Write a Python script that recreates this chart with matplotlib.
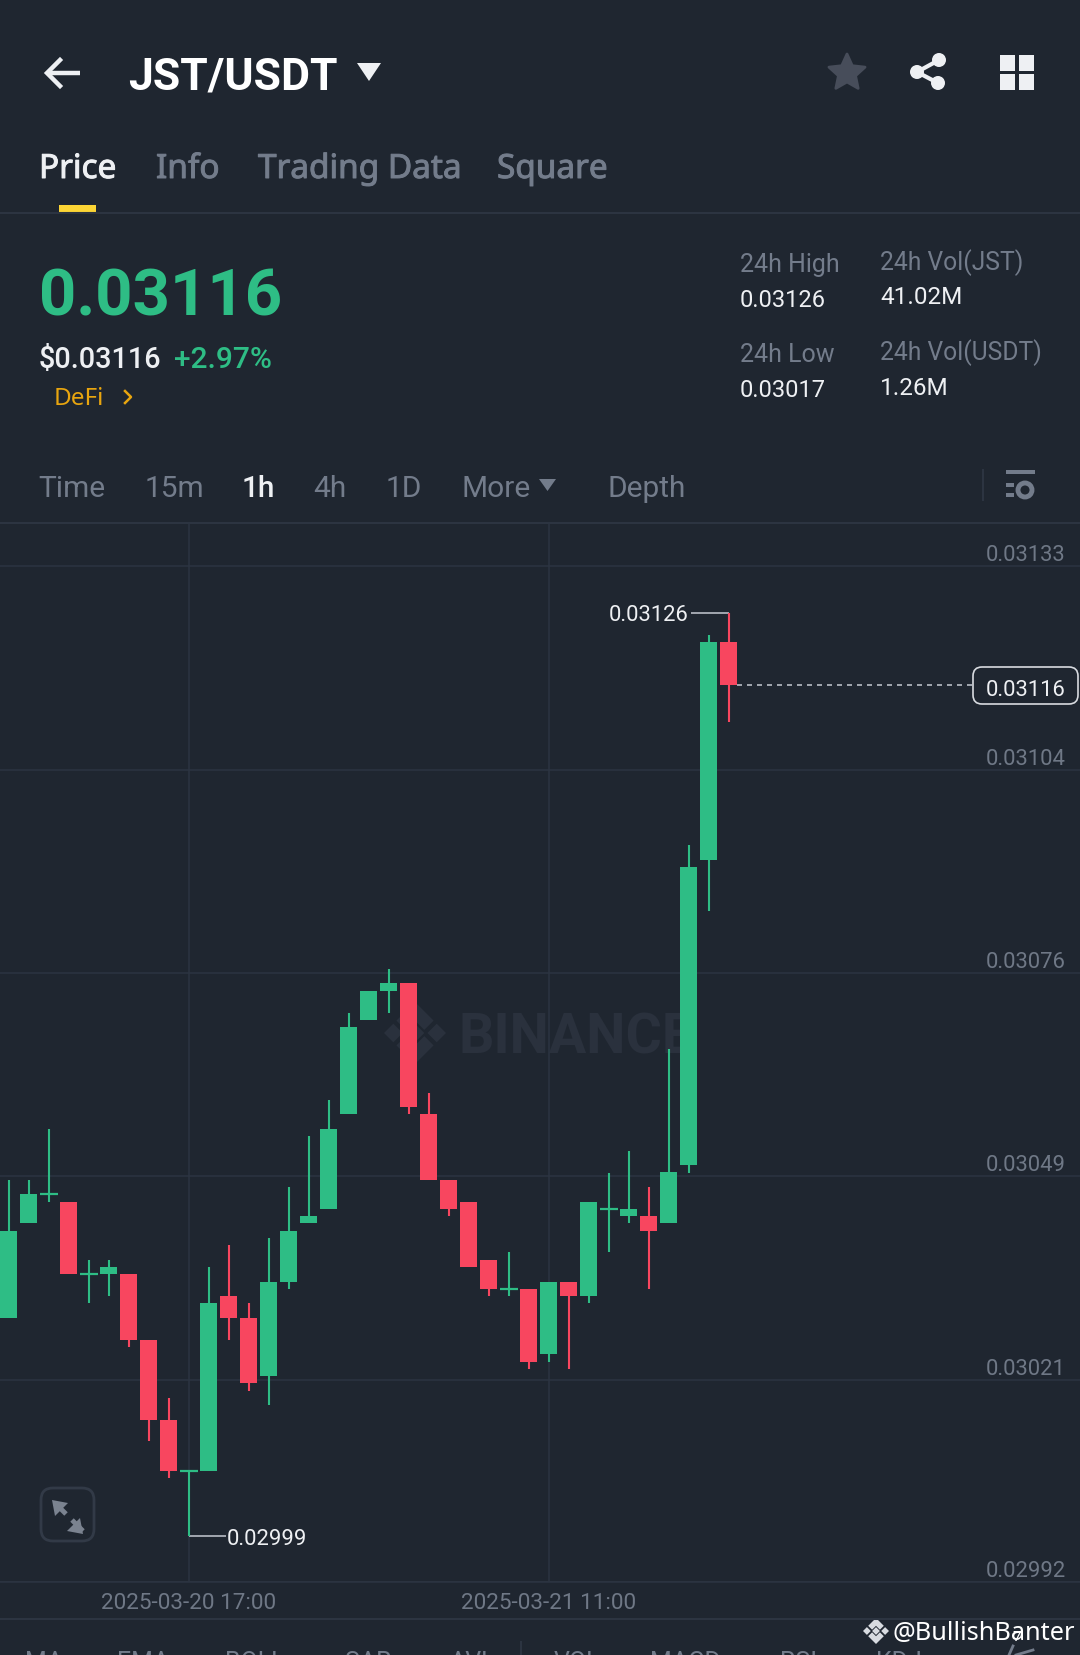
import math
import matplotlib
matplotlib.use("Agg")
import matplotlib.pyplot as plt
import matplotlib.patheffects as pe
from matplotlib.patches import Polygon, Circle, Rectangle, FancyBboxPatch

# ---------- data (prices) ----------
opens = [0.03029,0.03042,0.03046,0.03045,0.03035,0.03035,0.03035,0.03026,0.03015,0.03008,
         0.03008,0.03032,0.03029,0.03021,0.03034,0.03042,0.03044,0.03057,0.03070,0.03074,
         0.03075,0.03057,0.03048,0.03045,0.03037,0.03033,0.03033,0.03024,0.03034,0.03032,
         0.03044,0.03043,0.03043,0.03042,0.03050,0.03092,0.03122]
closes = [0.03041,0.03046,0.03046,0.03035,0.03035,0.03036,0.03026,0.03015,0.03008,0.03008,
          0.03031,0.03029,0.03020,0.03034,0.03041,0.03043,0.03055,0.03069,0.03074,0.03075,
          0.03058,0.03048,0.03044,0.03036,0.03033,0.03033,0.03023,0.03034,0.03032,0.03045,
          0.03044,0.03044,0.03041,0.03049,0.03091,0.03122,0.03116]
highs = [0.03048,0.03048,0.03055,0.03045,0.03037,0.03037,0.03035,0.03026,0.03018,0.03008,
         0.03036,0.03039,0.03031,0.03040,0.03047,0.03054,0.03059,0.03071,0.03074,0.03077,
         0.03075,0.03060,0.03048,0.03045,0.03037,0.03038,0.03033,0.03034,0.03034,0.03045,
         0.03049,0.03052,0.03047,0.03066,0.03094,0.03123,0.03126]
lows = [0.03029,0.03042,0.03045,0.03035,0.03031,0.03032,0.03025,0.03012,0.03007,0.02999,
        0.03008,0.03026,0.03019,0.03017,0.03033,0.03042,0.03044,0.03057,0.03070,0.03071,
        0.03057,0.03048,0.03043,0.03036,0.03032,0.03032,0.03022,0.03023,0.03022,0.03031,
        0.03038,0.03042,0.03033,0.03042,0.03049,0.03085,0.03111]
grid_prices = [0.031324,0.031044,0.030764,0.030485,0.030205,0.029927]
grid_labels = ["0.03133","0.03104","0.03076","0.03049","0.03021","0.02992"]
date_positions = [9,27]
date_labels = ["2025-03-20 17:00","2025-03-21 11:00"]
last_price = 0.03116
high_price = 0.03126
low_price = 0.02999
tabs = ["Price","Info","Trading Data","Square"]
intervals = ["Time","15m","1h","4h","1D","More","Depth"]
indicators = ["MA","EMA","BOLL","SAR","AVL","VOL","MACD","RSI","KDJ"]

# ---------- colours ----------
BG="#1f2630"; GRID="#2c3441"; GREEN="#2ebd85"; RED="#f8465f"; WHITE="#eef0f3"
GREY="#737c8b"; DGREY="#6f7886"; YEL="#fcd535"; ORG="#e8a50f"; WM="#2a313d"
UI="Noto Sans"; NUM="Roboto"

W,H=1080,1655
fig=plt.figure(figsize=(W/100,H/100),dpi=100,facecolor=BG)

ui=fig.add_axes([0,0,1,1],zorder=0)
ui.set_xlim(0,W); ui.set_ylim(H,0); ui.axis("off"); ui.patch.set_visible(False)

def T(x,y,s,size,color,weight="normal",family=UI,ha="left",**k):
    return ui.text(x,y,s,fontsize=size,color=color,fontweight=weight,family=family,ha=ha,va="baseline",**k)
def HL(y,c=GRID,lw=1.5,x0=0,x1=W):
    ui.plot([x0,x1],[y,y],color=c,lw=lw,solid_capstyle="butt")
def logo(cx,cy,r,color):
    s=r/30.0
    def P(pts): ui.add_patch(Polygon([(cx+a*s,cy+b*s) for a,b in pts],closed=True,fc=color,ec="none"))
    P([(0,-9),(9,0),(0,9),(-9,0)])
    P([(-30,0),(-21,-9),(-12,0),(-21,9)])
    P([(30,0),(21,-9),(12,0),(21,9)])
    P([(0,-30),(18,-12),(9,-3),(0,-12),(-9,-3),(-18,-12)])
    P([(0,30),(18,12),(9,3),(0,12),(-9,3),(-18,12)])

# header
ui.plot([47,80],[73,73],color=WHITE,lw=3.2,solid_capstyle="butt")
ui.plot([60,47,60],[60,73,86],color=WHITE,lw=3.2,solid_joinstyle="miter")
T(128,89,"JST/USDT",32,"#ffffff","bold",NUM)
ui.add_patch(Polygon([(357,63),(381,63),(369,81)],closed=True,fc=WHITE,ec="none"))
star=[(847+(19 if i%2==0 else 9)*math.sin(i*math.pi/5),73-(19 if i%2==0 else 9)*math.cos(i*math.pi/5)) for i in range(10)]
ui.add_patch(Polygon(star,closed=True,fc="#474d5a",ec="#474d5a",lw=2,joinstyle="round"))
ui.plot([939,917,938],[60,72,83],color=WHITE,lw=3)
for c in [(917,72),(939,60),(938,83)]:
    ui.add_patch(Circle(c,7,fc=WHITE,ec="none"))
for x0,y0 in [(1000,55),(1019,55),(1000,74),(1019,74)]:
    ui.add_patch(Rectangle((x0,y0),15,16,fc=WHITE,ec="none"))

# tabs
for x,s,c in zip([39,156,258,497],tabs,[WHITE,GREY,GREY,GREY]):
    t=T(x,178,s,24,c)
    t.set_path_effects([pe.withStroke(linewidth=0.7,foreground=c)])
ui.add_patch(Rectangle((59,205),37,7,fc=YEL,ec="none"))
HL(213)

# price block
T(39,316,"0.03116",47,GREEN,"bold",NUM)
T(39,368,"$0.03116",20.8,WHITE,"medium",NUM)
T(174,368,"+2.97%",21.5,GREEN,"medium",NUM)
T(54,405,"DeFi",17.5,ORG)
ui.plot([125,131,125],[391,397,403],color=ORG,lw=1.8)
T(740,272,"24h High",18,GREY,"normal",NUM)
T(740,307,"0.03126",17,WHITE,"normal",NUM)
T(740,362,"24h Low",18,GREY,"normal",NUM)
T(740,397,"0.03017",17,WHITE,"normal",NUM)
T(880,270,"24h Vol(JST)",17.7,GREY,"normal",NUM)
T(880,304,"41.02M",17.5,WHITE,"normal",NUM)
T(880,360,"24h Vol(USDT)",17.7,GREY,"normal",NUM)
T(880,395,"1.26M",17.5,WHITE,"normal",NUM)

# interval row
for x,s in zip([38,145,242,313,386,461,608],intervals):
    T(x,497,s,21.5,WHITE if s=="1h" else GREY,"medium" if s=="1h" else "normal",NUM)
ui.add_patch(Polygon([(539,479),(556,479),(547.5,491)],closed=True,fc=GREY,ec="none"))
ui.plot([983,983],[470,500],color=GRID,lw=1.5)
ui.add_patch(Rectangle((1006,470),29,4,fc=GREY,ec="none"))
ui.add_patch(Rectangle((1006,483),8,4,fc=GREY,ec="none"))
ui.add_patch(Rectangle((1006,493),8,4,fc=GREY,ec="none"))
ui.add_patch(Circle((1025,490),7,fc="none",ec=GREY,lw=3.5))
HL(523)

# watermark below candles
logo(415,1033,31,WM)
T(459,1053,"BINANCE",40,WM,"bold",NUM)

# expand button
ui.add_patch(FancyBboxPatch((41,1488),53,53,boxstyle="round,pad=0,rounding_size=12",fc="none",ec="#323a47",lw=2))
ui.plot([55,66],[1503,1514],color="#7b8390",lw=3.5,solid_capstyle="butt")
ui.plot([72,83],[1520,1531],color="#7b8390",lw=3.5,solid_capstyle="butt")
ui.add_patch(Polygon([(52,1500),(68,1503),(55,1516)],closed=True,fc="#7b8390",ec="none"))
ui.add_patch(Polygon([(83,1534),(67,1531),(80,1518)],closed=True,fc="#7b8390",ec="none"))

# bottom strip
HL(1619)
for x,s in zip([25,117,225,345,450,554,650,780,876],indicators):
    T(x,1670,s,18,GREY,"normal",NUM,clip_on=False)
ui.plot([521,521],[1642,1655],color=GRID,lw=1.5)
ui.plot([1009,1013],[1655,1646],color=GREY,lw=2)
ui.plot([1016,1033],[1655,1650],color=GREY,lw=2)
logo(876,1631,13,"#d8dbe0")
T(893,1640,"@BullishBanter",18.2,"#ffffff","normal",UI)
T(1012,1641,"7",11,"#ffffff","normal",UI)

# ---------- chart axes ----------
px_per_price=727000.0
ybot=low_price-(1582-1536)/px_per_price
ytop=low_price+(1536-524)/px_per_price
ax=fig.add_axes([0,(H-1582)/H,1,(1582-524)/H],zorder=1)
ax.patch.set_visible(False)
ax.set_xlim(-0.43,53.57); ax.set_ylim(ybot,ytop)
for s in ax.spines.values(): s.set_visible(False)
ax.spines["bottom"].set_visible(True); ax.spines["bottom"].set_color(GRID); ax.spines["bottom"].set_linewidth(1.1)
ax.set_yticks(grid_prices); ax.set_yticklabels([])
ax.set_xticks(date_positions); ax.set_xticklabels(date_labels,fontsize=16.2,color=DGREY,family=NUM)
ax.tick_params(axis="both",length=0)
ax.tick_params(axis="x",pad=8)
ax.grid(True,color=GRID,lw=1.1)
ax.set_axisbelow(True)
for v,l in zip(grid_prices,grid_labels):
    ax.annotate(l,xy=(986/W,v),xycoords=ax.get_yaxis_transform(),xytext=(0,3.6),textcoords="offset points",
                fontsize=15.8,color=DGREY,family=NUM,va="baseline",ha="left",annotation_clip=False)

xs=list(range(len(opens)))
cols=[GREEN if c>=o else RED for o,c in zip(opens,closes)]
ax.vlines(xs,lows,highs,colors=cols,lw=1.5,zorder=3)
for x,o,c,col in zip(xs,opens,closes,cols):
    if o==c:
        ax.hlines(o,x-0.45,x+0.45,colors=col,lw=1.6,zorder=3)
    else:
        ax.bar(x,abs(c-o),bottom=min(o,c),width=0.88,color=col,linewidth=0,zorder=3)

# last price line and pill
n=len(opens)-1
ax.hlines(last_price,n+0.43,(973-8.6)/20,colors="#b8bdc6",lw=1.2,linestyles=(0,(3,3)),zorder=2)
ax.hlines(high_price,(691-8.6)/20,n,colors="#b8bdc6",lw=1.2,zorder=2)
ax.hlines(low_price,9,(226-8.6)/20,colors="#b8bdc6",lw=1.2,zorder=2)
ax.annotate("0.03126",xy=(609/W,high_price),xycoords=ax.get_yaxis_transform(),xytext=(0,-5.8),textcoords="offset points",
            fontsize=15.8,color=WHITE,family=NUM,va="baseline",ha="left")
ax.annotate("0.02999",xy=(227/W,low_price),xycoords=ax.get_yaxis_transform(),xytext=(0,-6.5),textcoords="offset points",
            fontsize=15.8,color=WHITE,family=NUM,va="baseline",ha="left")
ui.add_patch(FancyBboxPatch((973,667),105,37,boxstyle="round,pad=0,rounding_size=9",fc=BG,ec="#d8dbe0",lw=1.2))
T(986,696,"0.03116",15.8,WHITE,"normal",NUM)

fig.savefig("out.png",dpi=100,facecolor=BG)
